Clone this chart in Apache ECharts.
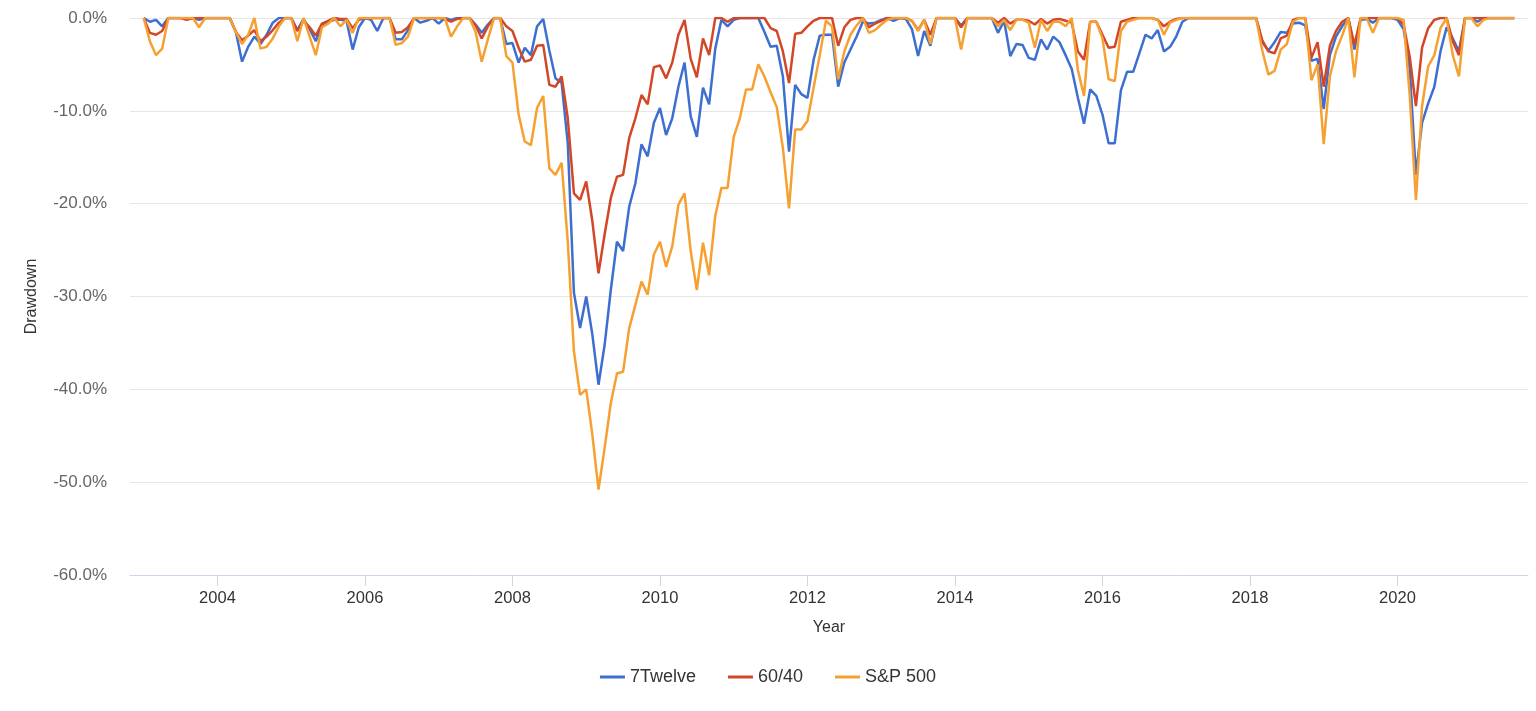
<!DOCTYPE html>
<html>
<head>
<meta charset="utf-8">
<script src="https://cdn.jsdelivr.net/npm/echarts@6/dist/echarts.min.js"></script>
<style>
html,body{margin:0;padding:0;background:#fff;}
#chart{width:1536px;height:711px;}
</style>
</head>
<body>
<div id="chart"></div>
<script>
// Monthly drawdowns (%), month-end from Dec 2002 to Jul 2021
// x position in decimal years: month-end of Dec 2002 = 2003.0, then +1/12 per month
const startYear = 2003;
const seriesNames = ['7Twelve', '60/40', 'S&P 500'];
const tickYears = [2004, 2006, 2008, 2010, 2012, 2014, 2016, 2018, 2020];
const yTicks = [0, -10, -20, -30, -40, -50, -60];

const sevenTwelve = [
  0, -0.4, -0.2, -0.9, 0, 0, 0, 0, 0, -0.2, 0, 0,
  0, 0, 0, -1.5, -4.7, -3.1, -2.0, -2.8, -1.8, -0.5, 0, 0,
  0, -1.3, -0.1, -1.2, -2.5, -0.7, -0.4, -0.2, -0.2, -0.3, -3.4, -1.0,
  0, -0.2, -1.4, 0, 0, -2.3, -2.3, -1.3, 0, -0.5, -0.3, 0,
  -0.6, 0, -0.2, 0, 0, 0, -0.7, -1.6, -0.7, 0, 0, -2.8,
  -2.7, -4.8, -3.2, -4.0, -0.9, -0.1, -3.5, -6.5, -7.0, -13.5, -29.6, -33.4,
  -30.0, -34.1, -39.5, -35.2, -29.3, -24.1, -25.1, -20.3, -17.8, -13.6, -14.9, -11.3,
  -9.7, -12.6, -10.8, -7.4, -4.8, -10.6, -12.8, -7.5, -9.3, -3.3, -0.2, -0.9,
  -0.2, 0, 0, 0, 0, -1.5, -3.1, -3.0, -6.3, -14.4, -7.2, -8.2,
  -8.6, -4.5, -1.9, -1.8, -1.8, -7.4, -4.8, -3.4, -2.0, -0.4, -0.6, -0.5,
  -0.2, 0, -0.3, 0, -0.1, -1.2, -4.1, -1.4, -3.0, 0, 0, 0,
  0, -0.8, 0, 0, 0, 0, 0, -1.6, -0.3, -4.1, -2.8, -2.9,
  -4.3, -4.5, -2.3, -3.4, -2.0, -2.6, -4.0, -5.5, -8.6, -11.4, -7.7, -8.4,
  -10.4, -13.5, -13.5, -7.8, -5.8, -5.8, -3.8, -1.8, -2.2, -1.3, -3.6, -3.1,
  -2.0, -0.4, 0, 0, 0, 0, 0, 0, 0, 0, 0, 0,
  0, 0, -2.6, -3.5, -2.6, -1.5, -1.6, -0.6, -0.5, -0.8, -4.6, -4.4,
  -9.8, -4.0, -2.0, -0.9, 0, -3.4, -0.2, -0.1, -0.5, 0, 0, 0,
  -0.2, -1.2, -5.5, -16.9, -11.3, -9.2, -7.4, -3.6, -1.0, -2.2, -3.6, 0,
  0, -0.4, 0, 0, 0, 0, 0, 0
];

const sixtyForty = [
  0, -1.6, -1.8, -1.4, 0, 0, 0, -0.2, 0, 0, 0, 0,
  0, 0, 0, -1.5, -2.4, -1.9, -1.3, -2.5, -2.0, -1.3, -0.5, 0,
  0, -1.4, -0.3, -1.0, -1.9, -0.6, -0.3, 0, -0.1, -0.1, -1.1, -0.2,
  0, 0, 0, 0, 0, -1.6, -1.5, -1.0, 0, 0, 0, 0,
  0, -0.1, -0.4, -0.1, 0, 0, -0.8, -2.2, -0.9, 0, 0, -0.9,
  -1.4, -3.2, -4.7, -4.5, -3.0, -2.9, -7.2, -7.4, -6.3, -10.8, -18.9, -19.6,
  -17.6, -21.9, -27.5, -23.3, -19.4, -17.1, -16.9, -12.9, -10.8, -8.3, -9.3, -5.3,
  -5.1, -6.5, -4.8, -1.8, -0.2, -4.4, -6.4, -2.2, -4.0, 0, 0, -0.4,
  0, 0, 0, 0, 0, 0, -1.1, -1.4, -3.6, -7.0, -1.7, -1.6,
  -0.9, -0.3, 0, 0, 0, -3.0, -1.0, -0.2, 0, 0, -1.0, -0.6,
  -0.3, 0, 0, 0, 0, -0.3, -1.3, -0.2, -1.8, 0, 0, 0,
  0, -1.0, 0, 0, 0, 0, 0, -0.5, 0, -0.6, -0.2, -0.2,
  -0.3, -0.7, -0.1, -0.6, -0.2, -0.1, -0.3, -0.5, -3.6, -4.5, -0.4, -0.4,
  -1.8, -3.2, -3.1, -0.4, -0.2, 0, 0, 0, 0, -0.2, -0.9, -0.4,
  -0.1, 0, 0, 0, 0, 0, 0, 0, 0, 0, 0, 0,
  0, 0, -2.4, -3.6, -3.8, -2.2, -1.9, -0.2, 0, 0, -4.3, -2.6,
  -7.4, -3.0, -1.4, -0.4, 0, -2.9, 0, 0, 0, 0, 0, 0,
  0, -0.7, -4.2, -9.5, -3.2, -1.1, -0.2, 0, 0, -2.5, -4.0, 0,
  0, 0, 0, 0, 0, 0, 0, 0
];

const sp500 = [
  0, -2.5, -4.0, -3.3, 0, 0, 0, 0, 0, -1.0, 0, 0,
  0, 0, 0, -1.5, -2.8, -1.8, 0, -3.3, -3.1, -2.2, -0.9, 0,
  0, -2.5, 0, -2.0, -4.0, -1.0, -0.6, 0, -0.9, -0.2, -1.6, 0,
  0, 0, 0, 0, 0, -2.9, -2.7, -2.0, 0, 0, 0, 0,
  0, 0, -2.0, -0.9, 0, 0, -1.5, -4.7, -2.3, 0, 0, -4.1,
  -4.8, -10.4, -13.3, -13.7, -9.7, -8.4, -16.2, -16.9, -15.6, -24.1, -35.9, -40.6,
  -40.0, -44.9, -50.8, -46.3, -41.5, -38.3, -38.1, -33.4, -30.9, -28.4, -29.8, -25.5,
  -24.1, -26.8, -24.6, -20.1, -18.9, -25.1, -29.3, -24.2, -27.7, -21.3, -18.3, -18.3,
  -12.8, -10.8, -7.7, -7.7, -5.0, -6.3, -8.0, -9.6, -14.0, -20.5, -12.0, -12.0,
  -11.1, -7.5, -4.0, -0.3, -0.9, -6.6, -3.6, -1.8, -0.8, 0, -1.6, -1.3,
  -0.7, -0.2, 0, 0, 0, -0.3, -1.4, -0.2, -2.8, 0, 0, 0,
  0, -3.4, 0, 0, 0, 0, 0, -0.9, -0.2, -1.3, -0.2, -0.2,
  -0.5, -3.2, -0.2, -1.4, -0.4, -0.4, -0.9, 0, -5.6, -8.4, -0.4, -0.4,
  -2.2, -6.6, -6.8, -1.4, -0.4, -0.2, 0, 0, 0, -0.2, -1.8, -0.5,
  -0.2, 0, 0, 0, 0, 0, 0, 0, 0, 0, 0, 0,
  0, 0, -3.5, -6.1, -5.7, -3.4, -2.8, -0.4, 0, 0, -6.7, -5.0,
  -13.6, -6.3, -3.6, -1.9, 0, -6.4, 0, 0, -1.6, 0, 0, 0,
  0, -0.2, -8.4, -19.6, -9.5, -5.2, -4.0, -1.1, 0, -4.0, -6.3, 0,
  0, -0.9, -0.2, 0, 0, 0, 0, 0
];

const colors = ['#3d6fd0', '#d34727', '#f7a032'];

function toPairs(arr) {
  return arr.map((v, i) => [startYear + i / 12, v]);
}
const seriesData = [sevenTwelve, sixtyForty, sp500];

const chart = echarts.init(document.getElementById('chart'));
chart.setOption({
  animation: false,
  color: colors,
  textStyle: { fontFamily: 'Liberation Sans, Arial, Helvetica, sans-serif' },
  grid: { left: 130, right: 8, top: 18, bottom: 136, containLabel: false },
  legend: {
    data: seriesNames,
    top: 663,
    left: 'center',
    icon: 'rect',
    itemWidth: 25,
    itemHeight: 3,
    itemGap: 32,
    textStyle: { fontSize: 18, color: '#333' }
  },
  xAxis: {
    type: 'value',
    min: 2002.814,
    max: 2021.77,
    name: 'Year',
    nameLocation: 'middle',
    nameGap: 45,
    nameTextStyle: { fontSize: 16, color: '#333' },
    axisLine: { show: true, onZero: false, lineStyle: { color: '#ccd6eb', width: 1 } },
    axisTick: { show: true, customValues: tickYears, length: 11, lineStyle: { color: '#ccd6eb' } },
    axisLabel: {
      customValues: tickYears,
      formatter: v => String(Math.round(v)),
      fontSize: 16.5,
      color: '#333',
      margin: 15
    },
    splitLine: { show: false }
  },
  yAxis: {
    type: 'value',
    min: -60,
    max: 0,
    interval: 10,
    name: 'Drawdown',
    nameLocation: 'middle',
    nameGap: 90,
    nameRotate: 90,
    nameTextStyle: { fontSize: 16, color: '#333' },
    axisLine: { show: false },
    axisTick: { show: false },
    axisLabel: {
      formatter: v => v.toFixed(1) + '%',
      fontSize: 17,
      color: '#666',
      margin: 23
    },
    splitLine: { lineStyle: { color: '#e6e6e6', width: 1 } }
  },
  series: seriesNames.map((name, k) => ({
    name: name,
    type: 'line',
    showSymbol: false,
    symbol: 'none',
    lineStyle: { width: 2.5 },
    data: toPairs(seriesData[k])
  }))
});
</script>
</body>
</html>
